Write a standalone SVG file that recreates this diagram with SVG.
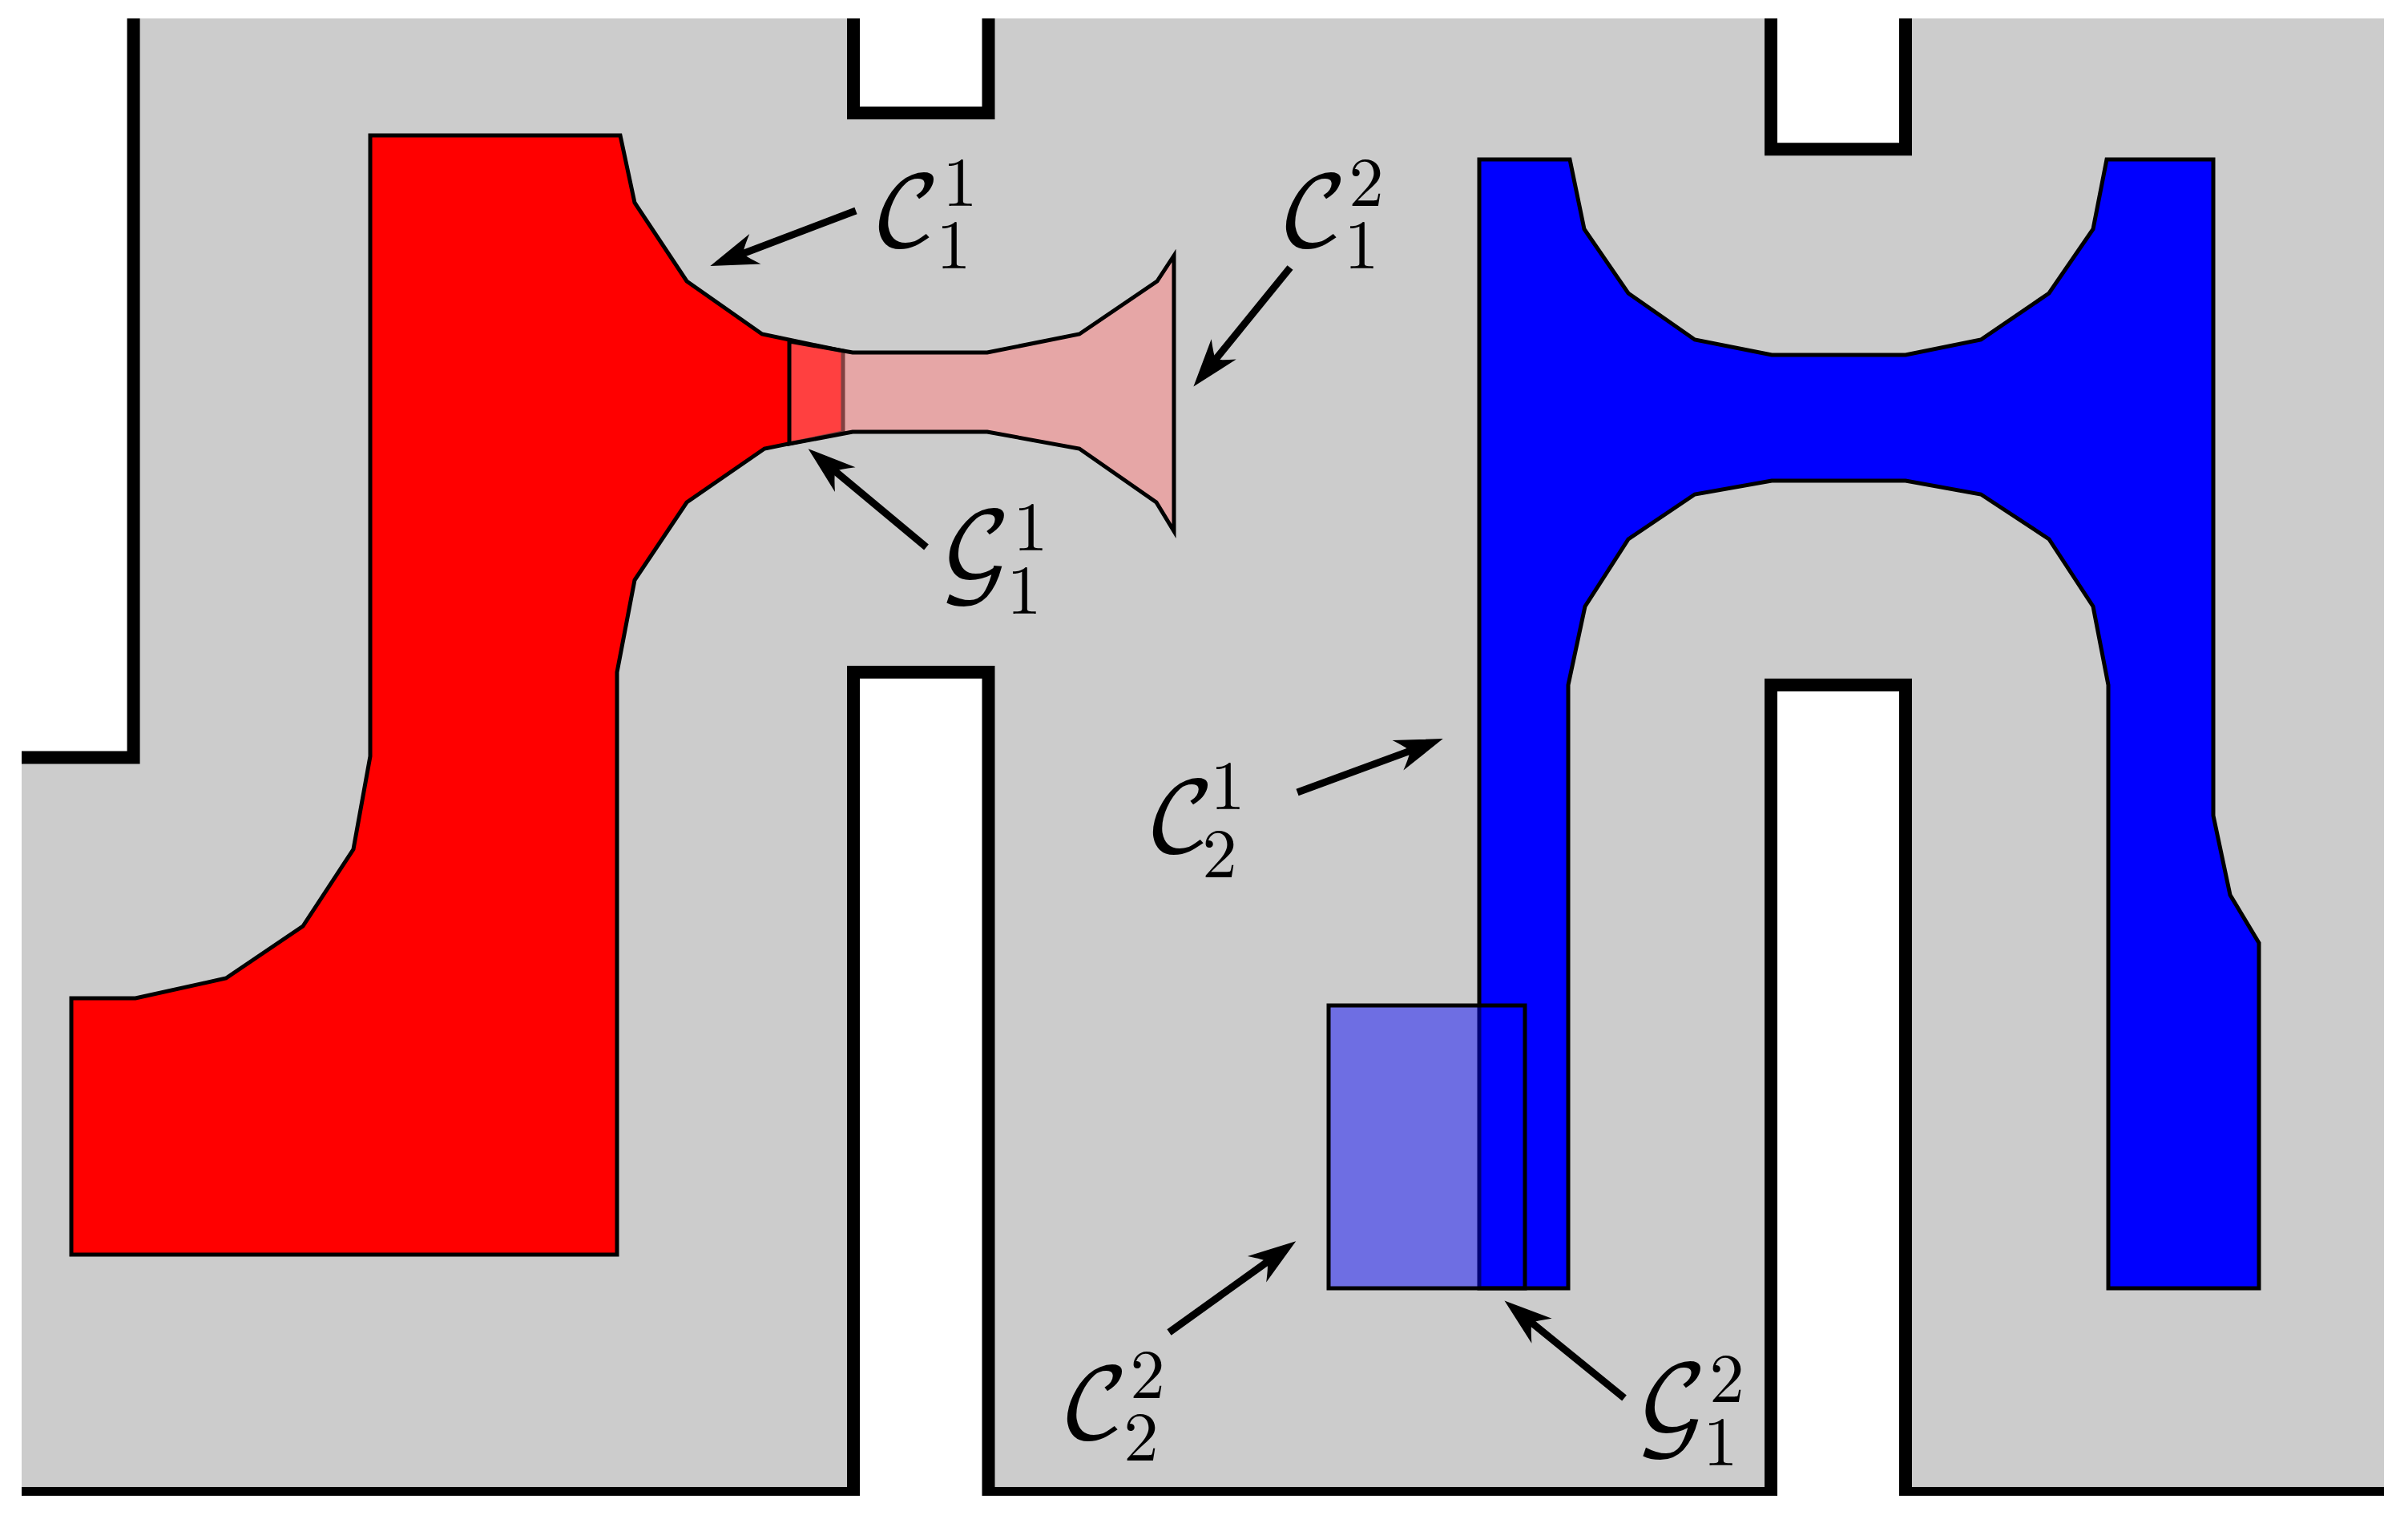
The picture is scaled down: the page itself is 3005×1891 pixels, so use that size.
<svg xmlns="http://www.w3.org/2000/svg" width="3005" height="1891" viewBox="0 0 3005 1891">
<style>
.wall{fill:none;stroke:#000;stroke-width:16;stroke-linejoin:miter}
.shape{stroke:#000;stroke-width:5;stroke-linejoin:miter}
.arrow{fill:none;stroke:#000;stroke-width:9;marker-end:url(#head)}
.label{fill:#000;text-anchor:middle;font-family:"Latin Modern Roman","Liberation Serif",serif;font-size:87px}
.cal{font-family:"DejaVu Math TeX Gyre","DejaVu Serif",serif;font-size:120px}
</style>
<defs>
<marker id="head" markerUnits="userSpaceOnUse" viewBox="-50 -30 80 60" refX="0" refY="0" markerWidth="80" markerHeight="60" orient="auto"><path d="M20,0L-40,-20Q-26,-5 -24,0Q-26,5 -40,20Z" fill="#000"/></marker>
<clipPath id="frame"><rect x="27" y="23" width="2948" height="1844"/></clipPath>
</defs>
<rect width="3005" height="1891" fill="#fff"/>
<g id="domain" clip-path="url(#frame)">
<path fill="#ccc" d="M166.6,23H1065V141H1233.5V23H2210V186.3H2378V23H2975V1867H2378V855H2210V1867H1233.5V839H1065V1867H27V945.5H166.6Z"/>
<path class="wall" d="M166.6,10V945.5H10M1065,10V141H1233.5V10M2210,10V186.3H2378V10M10,1864H1065V839H1233.5V1864H2210V855H2378V1864H2990"/>
</g>
<g id="red-domain">
<polygon class="shape" fill="#f00" points="462,169 774,169 792,253 857,351 951,417 1052,438 1052,540 954,560 857,627 792,724 770,839 770,1566 89,1566 89,1246 169,1246 282,1221 378,1156 441,1060 462,944"/>
</g>
<g id="red-overlap">
<polygon class="shape" fill="#ff8080" fill-opacity=".5" points="985,426 1064,440 1232,440 1347,417 1444,351 1465,319 1465,663 1443,627 1347,560 1232,539 1064,539 985,554"/>
</g>
<g id="blue-domain">
<polygon class="shape" fill="#00f" points="1846,199 1959,199 1977,286 2032,366 2115,424 2211,443 2378,443 2472,424 2557,366 2612,286 2629,199 2762,199 2762,1018 2783,1117 2819,1177 2819,1608 2631,1608 2631,855 2612,757 2557,673 2472,617 2378,600 2211,600 2115,617 2032,673 1978,757 1957,855 1957,1608 1846,1608"/>
</g>
<g id="blue-overlap">
<rect class="shape" x="1658" y="1255" width="245" height="353" fill="#00f" fill-opacity=".46"/>
</g>
<g id="connectors">
<path class="arrow" d="M1068,263L905,325"/>
<path class="arrow" d="M1610,334L1502,467"/>
<path class="arrow" d="M1156,683L1024,573"/>
<path class="arrow" d="M1619,989L1782,929"/>
<path class="arrow" d="M1459,1663L1601,1561"/>
<path class="arrow" d="M2027,1745L1893,1636"/>
</g>
<g id="labels">
<text class="label"><tspan class="cal" x="1131" y="307">𝒞</tspan><tspan x="1198" y="257">1</tspan><tspan x="1190" y="335">1</tspan></text>
<text class="label"><tspan class="cal" x="1639" y="307">𝒞</tspan><tspan x="1705" y="257">2</tspan><tspan x="1699" y="335">1</tspan></text>
<text class="label"><tspan class="cal" x="1217" y="725">𝒢</tspan><tspan x="1286" y="687">1</tspan><tspan x="1278" y="766">1</tspan></text>
<text class="label"><tspan class="cal" x="1473" y="1063">𝒞</tspan><tspan x="1532" y="1010">1</tspan><tspan x="1522" y="1095">2</tspan></text>
<text class="label"><tspan class="cal" x="1366" y="1795">𝒞</tspan><tspan x="1432" y="1745">2</tspan><tspan x="1424" y="1823">2</tspan></text>
<text class="label"><tspan class="cal" x="2086" y="1790">𝒢</tspan><tspan x="2155" y="1750">2</tspan><tspan x="2147" y="1829">1</tspan></text>
</g>
</svg>
